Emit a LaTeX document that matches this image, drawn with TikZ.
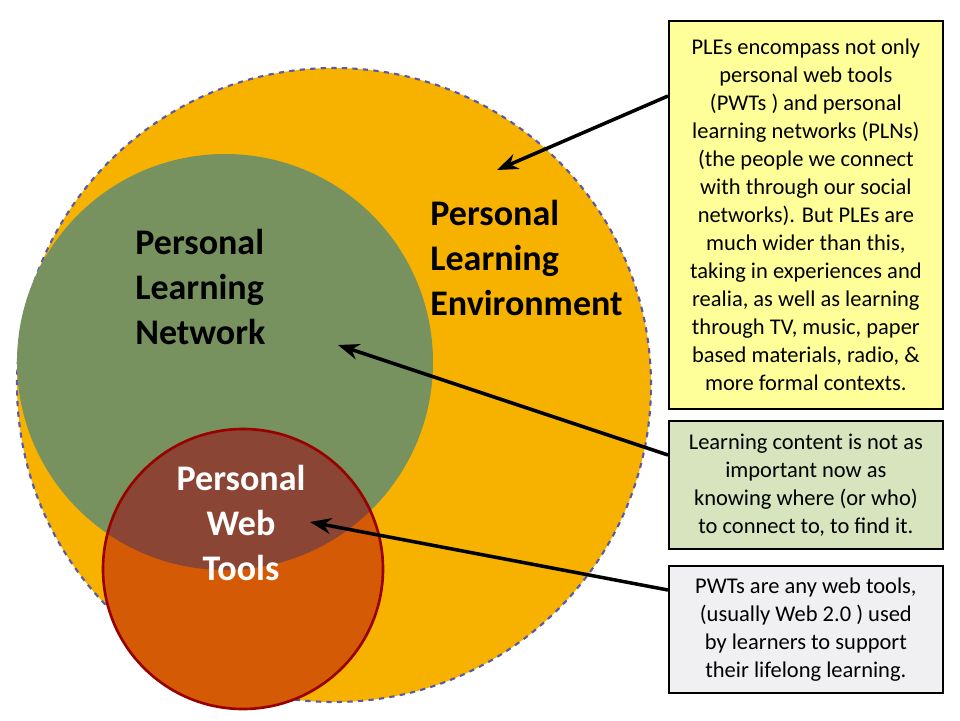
\documentclass[tikz,border=0pt]{standalone}
\usepackage{fontspec}
\setmainfont{Carlito}
\usetikzlibrary{arrows.meta}
\definecolor{ple}{HTML}{F7B200}
\definecolor{pln}{HTML}{77925E}
\definecolor{pwt}{HTML}{D45A05}
\definecolor{pwtd}{HTML}{8B4535}
\definecolor{yb}{HTML}{FFFF99}
\definecolor{gb}{HTML}{D7E4BD}
\definecolor{wb}{HTML}{F0F0F2}
\begin{document}
\begin{tikzpicture}[x=0.02cm,y=-0.02cm,
  box/.style={draw=black,line width=1pt,align=center,font=\fontsize{12.8}{15.9}\selectfont,inner sep=0pt,anchor=north west,minimum width=274*0.02cm},
  big/.style={font=\fontsize{20.5}{25.5}\selectfont\bfseries,inner sep=0pt},
  arr/.style={-{Stealth[length=12pt,width=9pt]},line width=2pt}]
\useasboundingbox (0,0) rectangle (960,720);
\fill[white] (0,0) rectangle (960,720);
\draw[fill=ple,draw=gray!70!blue,dashed,line width=1.2pt] (334,385) circle[radius=317*0.02cm];
\fill[pln] (225,362) circle[radius=208*0.02cm];
\fill[pwt] (243,569) circle[radius=140*0.02cm];
\begin{scope}
\clip (225,362) circle[radius=208*0.02cm];
\fill[pwtd] (243,569) circle[radius=140*0.02cm];
\end{scope}
\draw[draw=red!60!black,line width=1.5pt] (243,569) circle[radius=140*0.02cm];
\node[big,align=left,anchor=west] (ple) at (430,258) {Personal\\Learning\\Environment};
\node[big,align=left,anchor=west] (pln) at (135,287) {Personal\\Learning\\Network};
\node[big,align=center,text=white] (pwt) at (241,523) {Personal\\Web\\Tools};
\node[box,fill=yb,minimum height=388*0.02cm] (b1) at (668,20) {PLEs encompass not only\\personal web tools\\(PWTs ) and personal\\learning networks (PLNs)\\(the people we connect\\with through our social\\networks). But PLEs are\\much wider than this,\\taking in experiences and\\realia, as well as learning\\through TV, music, paper\\based materials, radio, \&\\more formal contexts.};
\node[box,fill=gb,minimum height=128*0.02cm] (b2) at (668,420) {Learning content is not as\\important now as\\knowing where (or who)\\to connect to, to find it.};
\node[box,fill=wb,minimum height=127*0.02cm] (b3) at (668,565) {PWTs are any web tools,\\(usually Web 2.0 ) used\\by learners to support\\their lifelong learning.};
\coordinate (t1) at (497,170);
\coordinate (t2) at (338,345);
\coordinate (t3) at (310,522);
\draw[arr] (b1.west |- 0,96) -- (t1);
\draw[arr] (b2.west |- 0,455) -- (t2);
\draw[arr] (b3.west |- 0,590) -- (t3);
\end{tikzpicture}
\end{document}
